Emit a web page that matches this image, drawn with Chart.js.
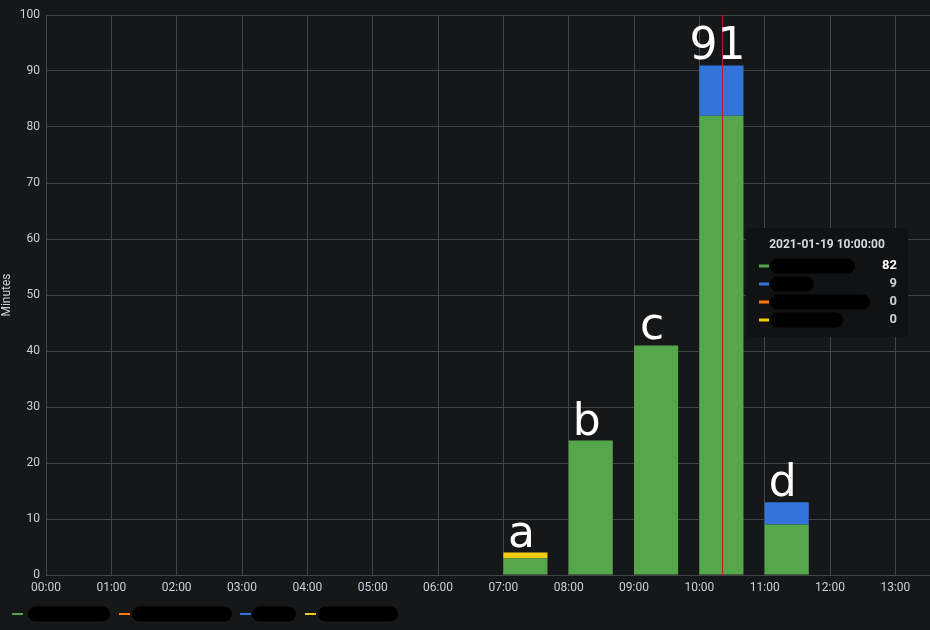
<!DOCTYPE html>
<html>
<head>
<meta charset="utf-8">
<script src="https://cdn.jsdelivr.net/npm/chart.js@4/dist/chart.umd.min.js"></script>
<style>
  html, body { margin: 0; padding: 0; background: #161719; }
  #contenedor { width: 930px; height: 630px; }
</style>
</head>
<body>
<div id="contenedor"><canvas id="graficoBarras"></canvas></div>
<script>
const horas = [7, 8, 9, 10, 11]
const minutosVerde = [3, 24, 41, 82, 9]
const minutosNaranja = [0, 0, 0, 0, 0]
const minutosAzul = [0, 0, 0, 9, 4]
const minutosAmarillo = [1, 0, 0, 0, 0]
const nombresSeries = ['Serie 1', 'Serie 2', 'Serie 3', 'Serie 4']
const notasManuscritas = ['a', 'b', 'c', '91', 'd']
const horaCursor = 10.35
const tituloTooltip = '2021-01-19 10:00:00'

const colores = {
    verde: '#56a64b',
    naranja: '#ff780a',
    azul: '#3274d9',
    amarillo: '#f2cc0c',
    fondo: '#161719',
    grilla: '#434448',
    texto: '#c7d0d9'
}

const anchoBarra = 0.675
const construirPuntos = (valores) => horas.map((h, i) => ({ x: h + anchoBarra / 2, y: valores[i] }))

const pad2 = (n) => String(n).padStart(2, '0')

const construirDataset = (nombre, valores, color) => ({
    label: nombre,
    data: construirPuntos(valores),
    backgroundColor: color,
    borderWidth: 0,
    barPercentage: anchoBarra,
    categoryPercentage: 1
})

const datasets = [
    construirDataset(nombresSeries[0], minutosVerde, colores.verde),
    construirDataset(nombresSeries[1], minutosNaranja, colores.naranja),
    construirDataset(nombresSeries[2], minutosAzul, colores.azul),
    construirDataset(nombresSeries[3], minutosAmarillo, colores.amarillo)
]

const fondoPlugin = {
    id: 'fondo',
    beforeDraw: (chart) => {
        const ctx = chart.ctx
        ctx.save()
        ctx.fillStyle = colores.fondo
        ctx.fillRect(0, 0, chart.width, chart.height)
        ctx.restore()
    }
}

const cursorPlugin = {
    id: 'cursor',
    afterDatasetsDraw: (chart) => {
        const { ctx, chartArea, scales } = chart
        const x = Math.round(scales.x.getPixelForValue(horaCursor)) + 0.5
        ctx.save()
        ctx.strokeStyle = '#c4162a'
        ctx.lineWidth = 1
        ctx.beginPath()
        ctx.moveTo(x, chartArea.top)
        ctx.lineTo(x, chartArea.bottom)
        ctx.stroke()
        ctx.restore()
    }
}

// las notas escritas a mano encima de cada barra
const notasPlugin = {
    id: 'notas',
    afterDatasetsDraw: (chart) => {
        const { ctx, scales } = chart
        ctx.save()
        ctx.fillStyle = '#ffffff'
        ctx.font = '44px "DejaVu Sans"'
        ctx.textAlign = 'center'
        ctx.textBaseline = 'alphabetic'
        horas.forEach((h, i) => {
            const total = minutosVerde[i] + minutosNaranja[i] + minutosAzul[i] + minutosAmarillo[i]
            const x = scales.x.getPixelForValue(h + anchoBarra / 2) - 4
            const y = scales.y.getPixelForValue(total) - 6
            ctx.fillText(notasManuscritas[i], x, y)
        })
        ctx.restore()
    }
}

const borron = (ctx, x, y, ancho, alto) => {
    ctx.beginPath()
    ctx.roundRect(x, y - alto / 2, ancho, alto, alto / 2)
    ctx.fill()
}

const tooltipPlugin = {
    id: 'tooltipFijo',
    afterDraw: (chart) => {
        const ctx = chart.ctx
        const i = horas.indexOf(10)
        const filas = [
            { color: colores.verde, valor: minutosVerde[i], ancho: 85 },
            { color: colores.azul, valor: minutosAzul[i], ancho: 44 },
            { color: colores.naranja, valor: minutosNaranja[i], ancho: 100 },
            { color: colores.amarillo, valor: minutosAmarillo[i], ancho: 73 }
        ]
        ctx.save()
        ctx.fillStyle = '#111214'
        ctx.fillRect(746, 228, 162, 109)
        ctx.fillStyle = '#d8d9da'
        ctx.font = 'bold 12px Roboto'
        ctx.textAlign = 'center'
        ctx.textBaseline = 'middle'
        ctx.fillText(tituloTooltip, 827, 245)
        ctx.font = 'bold 13px Roboto'
        filas.forEach((fila, k) => {
            const y = 266 + k * 18
            ctx.fillStyle = fila.color
            ctx.fillRect(759, y - 1.5, 10, 3)
            ctx.fillStyle = '#000000'
            borron(ctx, 770, y, fila.ancho, 15)
            ctx.fillStyle = k === 0 ? '#ffffff' : '#c7d0d9'
            ctx.textAlign = 'right'
            ctx.fillText(String(fila.valor), 897, y)
        })
        ctx.restore()
    }
}

const leyendaPlugin = {
    id: 'leyendaTapada',
    afterDraw: (chart) => {
        const ctx = chart.ctx
        const items = [
            { color: colores.verde, x: 12, inicio: 28, ancho: 82 },
            { color: colores.naranja, x: 119, inicio: 132, ancho: 100 },
            { color: colores.azul, x: 240, inicio: 252, ancho: 44 },
            { color: colores.amarillo, x: 305, inicio: 318, ancho: 80 }
        ]
        ctx.save()
        items.forEach((item) => {
            ctx.fillStyle = item.color
            ctx.fillRect(item.x, 613, 11, 2)
            ctx.fillStyle = '#000000'
            borron(ctx, item.inicio, 614, item.ancho, 15)
        })
        ctx.restore()
    }
}

const canvas = document.querySelector('#graficoBarras')
new Chart(canvas, {
    type: 'bar',
    data: { datasets: datasets },
    plugins: [fondoPlugin, cursorPlugin, notasPlugin, tooltipPlugin, leyendaPlugin],
    options: {
        responsive: true,
        maintainAspectRatio: false,
        animation: false,
        layout: { padding: { top: 15, bottom: 30, left: 0, right: 0 } },
        plugins: {
            legend: { display: false },
            tooltip: { enabled: false }
        },
        scales: {
            x: {
                type: 'linear',
                stacked: true,
                offset: false,
                min: 0,
                max: 13.53,
                afterFit: (scale) => { scale.height = 25 },
                grid: { color: colores.grilla, offset: false, drawTicks: false },
                border: { color: colores.grilla },
                ticks: {
                    stepSize: 1,
                    includeBounds: false,
                    maxRotation: 0,
                    autoSkip: false,
                    padding: 6,
                    color: colores.texto,
                    font: { family: 'Roboto', size: 12 },
                    callback: (v) => pad2(v) + ':00'
                }
            },
            y: {
                stacked: true,
                min: 0,
                max: 100,
                afterFit: (scale) => { scale.width = 46 },
                grid: { color: colores.grilla, drawTicks: false },
                border: { color: colores.grilla },
                title: {
                    display: true,
                    text: 'Minutes',
                    color: colores.texto,
                    padding: 0,
                    font: { family: 'Roboto', size: 12 }
                },
                ticks: {
                    stepSize: 10,
                    padding: 6,
                    color: colores.texto,
                    font: { family: 'Roboto', size: 12 }
                }
            }
        }
    }
})
</script>
</body>
</html>
